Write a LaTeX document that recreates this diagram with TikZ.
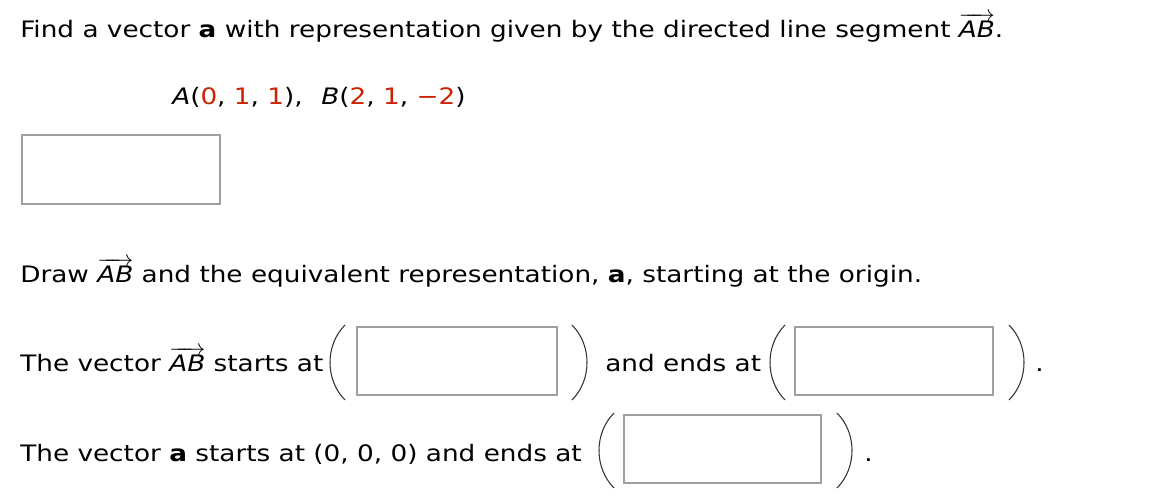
\documentclass[tikz,border=0pt]{standalone}
\usepackage{fontspec}
\setmainfont[FakeStretch=1.16]{DejaVu Sans}
\usepackage{amsmath}
\definecolor{rd}{RGB}{204,34,0}
\definecolor{bx}{RGB}{160,160,160}
\newcommand{\vAB}{$\overrightarrow{\text{\itshape AB}}$}
\begin{document}
\begin{tikzpicture}[x=0.75pt,y=-0.75pt,
  txt/.style={anchor=base west,inner sep=0pt,font=\fontsize{17}{20}\selectfont},
  ansbox/.style={draw=bx,line width=0.9pt},
  par/.style={line width=0.8pt,black!80}]
\useasboundingbox (0,0) rectangle (1176,498);
\node[txt] (t1) at (20,38) {Find a vector \textbf{a} with representation given by the directed line segment \vAB.};
\node[txt] (t2) at (172,105) {\textit{A}(\textcolor{rd}{0}, \textcolor{rd}{1}, \textcolor{rd}{1}),\hspace{14pt}\textit{B}(\textcolor{rd}{2}, \textcolor{rd}{1}, \textcolor{rd}{−2})};
\draw[ansbox] (22,135) rectangle (220,204) node (b0) {};
\node[txt] (t3) at (20,283) {Draw \vAB\ and the equivalent representation, \textbf{a}, starting at the origin.};
\node[txt] (t4) at (20,372) {The vector \vAB\ starts at};
\draw[par] (345,325) .. controls (325,345) and (325,380) .. (345,400);
\draw[ansbox] (357,327) rectangle (557,395) node (b1) {};
\draw[par] (572,325) .. controls (592,345) and (592,380) .. (572,400);
\node[txt] (t5) at (605,372) {and ends at};
\draw[par] (785,325) .. controls (765,345) and (765,380) .. (785,400);
\draw[ansbox] (795,327) rectangle (993,395) node (b2) {};
\draw[par] (1009,325) .. controls (1029,345) and (1029,380) .. (1009,400);
\node[txt] (d1) at (1035,372) {.};
\node[txt] (t6) at (20,461) {The vector \textbf{a} starts at (0, 0, 0) and ends at};
\draw[par] (614,413) .. controls (594,433) and (594,468) .. (614,488);
\draw[ansbox] (624,415) rectangle (821,483) node (b3) {};
\draw[par] (837,413) .. controls (857,433) and (857,468) .. (837,488);
\node[txt] (d2) at (864,461) {.};
\end{tikzpicture}
\end{document}
